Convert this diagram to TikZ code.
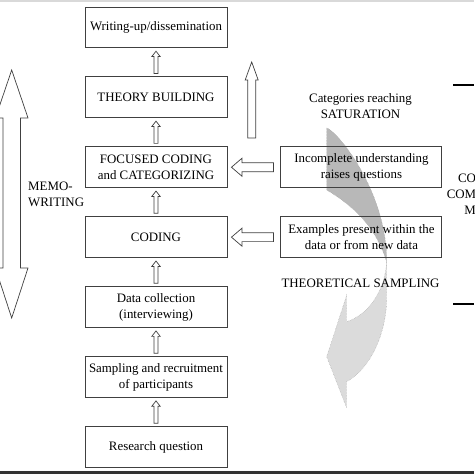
\documentclass[tikz,border=0pt]{standalone}
\usepackage{fontspec}
\setmainfont{Liberation Serif}
\usepackage{tikz}
\usetikzlibrary{positioning, calc, arrows.meta}

\newcommand{\boxfont}{\fontsize{11}{13.5}\selectfont}
% small hollow arrow from the top of #1 to the bottom of #2
\newcommand{\stepup}[2]{%
  \draw[hollow] let \p1=(#1.north), \p2=(#2.south) in
    (\x1-1.7pt,\y1+2.6pt) -- (\x1-1.7pt,\y2-7.2pt) -- (\x1-3.6pt,\y2-7.2pt) -- (\x1,\y2-2.6pt)
    -- (\x1+3.6pt,\y2-7.2pt) -- (\x1+1.7pt,\y2-7.2pt) -- (\x1+1.7pt,\y1+2.6pt) -- cycle;}
% hollow arrow from the left side of #1 to the right side of #2
\newcommand{\stepleft}[2]{%
  \draw[hollow] let \p1=(#1.west), \p2=(#2.east) in
    (\x1-6pt,\y1+3.8pt) -- (\x2+12.4pt,\y1+3.8pt) -- (\x2+12.4pt,\y1+7.7pt) -- (\x2+3.4pt,\y1)
    -- (\x2+12.4pt,\y1-7.7pt) -- (\x2+12.4pt,\y1-3.8pt) -- (\x1-6pt,\y1-3.8pt) -- cycle;}

\begin{document}
\begin{tikzpicture}[x=0.03cm, y=0.03cm, node distance=0.85cm,
  mainbox/.style={draw=black!75, line width=0.8pt, minimum width=4.26cm, minimum height=1.22cm, inner xsep=1pt, align=center, font=\boxfont},
  sidebox/.style={mainbox, minimum width=4.83cm},
  hollow/.style={draw=black!75, line width=0.6pt, fill=white},
  note/.style={align=center, font=\boxfont, inner sep=0pt},
  greyarrow/.style={draw=black!45, densely dotted, line width=0.3pt}]

  \useasboundingbox (0,0) rectangle (474,474);
  \clip (0,0) rectangle (474,474);
  \fill[black!15] (0,472) rectangle (474,474);
  \fill[black!80] (0,0) rectangle (474,2.5);

  % grey curved arrow behind the boxes
  \filldraw[greyarrow, fill=black!28] (326.7,346) .. controls (335,345) and (387,285) .. (386.7,212)
    .. controls (375,250) and (350,270) .. (326.7,284) -- cycle;
  \filldraw[greyarrow, fill=black!14] (386.7,212) -- (386.7,177) .. controls (386.7,140) and (370,105) .. (346.7,92.3)
    -- (346.7,66) -- (326.7,117.3) -- (346.7,179) -- (346.7,152.3)
    .. controls (370,160) and (385,185) .. (386.7,212) -- cycle;

  \node[mainbox] (question) at (156,27) {Research question};
  \node[mainbox, above=of question] (sampling) {Sampling and recruitment\\of participants};
  \node[mainbox, above=of sampling] (collection) {Data collection\\(interviewing)};
  \node[mainbox, above=of collection] (coding) {CODING};
  \node[mainbox, above=of coding] (focused) {FOCUSED CODING\\and CATEGORIZING};
  \node[mainbox, above=of focused] (theory) {THEORY BUILDING};
  \node[mainbox, above=of theory] (writing) {Writing-up/dissemination};
  \node[sidebox, right=1.59cm of focused] (incomplete) {Incomplete understanding\\raises questions};
  \node[sidebox, right=1.59cm of coding] (examples) {Examples present within the\\data or from new data};

  \node[note, anchor=west, align=left] (memo) at (28,280) {MEMO-\\WRITING};
  \node[note] (saturation) at (360.5,367.5) {Categories reaching\\SATURATION};
  \node[note] (theosampling) at (360.5,191) {THEORETICAL SAMPLING};
  \node[note] (constant) at (492,280) {CONSTANT\\COMPARATIVE\\METHOD};

  \stepup{question}{sampling}
  \stepup{sampling}{collection}
  \stepup{collection}{coding}
  \stepup{coding}{focused}
  \stepup{focused}{theory}
  \stepup{theory}{writing}
  \stepleft{incomplete}{focused}
  \stepleft{examples}{coding}

  % big hollow arrows
  \draw[hollow] (247.7,336) -- (247.7,394) -- (245.2,394) -- (251.7,412) -- (258.2,394) -- (255.7,394) -- (255.7,336) -- cycle;
  \draw[hollow] (3,206) -- (3,356) -- (-4.6,356) -- (11.7,404) -- (28,356) -- (20.4,356)
    -- (20.4,206) -- (28,206) -- (11.7,156) -- (-4.6,206) -- cycle;

  % ends of the brace on the right
  \draw[line width=2pt] (453,389) -- (474,389);
  \draw[line width=2pt] (453,170) -- (474,170);
\end{tikzpicture}
\end{document}
